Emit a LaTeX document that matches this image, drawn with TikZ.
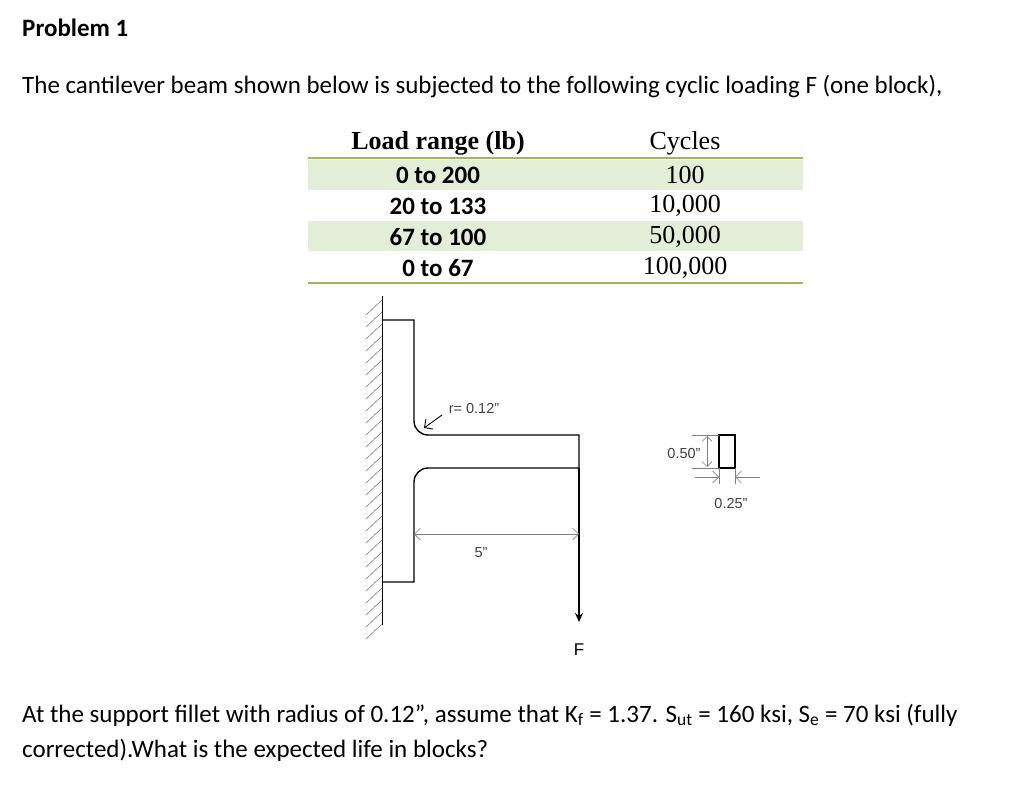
\documentclass[tikz,border=0pt]{standalone}
\usepackage{fontspec}
\setmainfont{Carlito}
\newfontfamily\serif{Liberation Serif}
\newfontfamily\arial{Liberation Sans}
\usetikzlibrary{arrows.meta}
\definecolor{rowgreen}{HTML}{E3EED8}
\definecolor{linegreen}{HTML}{9BBB59}
\tikzset{
  txt/.style={anchor=west,inner sep=0pt,font=\fontsize{25}{30}\selectfont},
  cell/.style={inner sep=0pt},
  small/.style={inner sep=0pt,font=\arial\fontsize{14.5}{16}\selectfont,text=black!75},
  beam/.style={line width=1.4pt},
  dim/.style={gray,line width=0.6pt},
}
\begin{document}
\begin{tikzpicture}[x=1pt,y=-1pt]
\useasboundingbox (0,0) rectangle (1024,790);
\node[txt,font=\bfseries\fontsize{25}{30}\selectfont] (p) at (22,28) {Problem 1};
\node[txt] (t1) at (22,87) {The cantilever beam shown below is subjected to the following cyclic loading F (one block),};
% table
\fill[rowgreen] (308,160) rectangle (803,190);
\fill[rowgreen] (308,221) rectangle (803,251);
\draw[linegreen,line width=1.5pt] (308,158) -- (803,158);
\draw[linegreen,line width=1.5pt] (308,283) -- (803,283);
\node[cell,font=\serif\bfseries\fontsize{26}{28}\selectfont] (h1) at (438,143) {Load range (lb)};
\node[cell,font=\serif\fontsize{26}{28}\selectfont] (h2) at (685,143) {Cycles};
\node[cell,font=\bfseries\fontsize{25}{28}\selectfont] (a1) at (438,175) {0 to 200};
\node[cell,font=\bfseries\fontsize{25}{28}\selectfont] (a2) at (438,206) {20 to 133};
\node[cell,font=\bfseries\fontsize{25}{28}\selectfont] (a3) at (438,237) {67 to 100};
\node[cell,font=\bfseries\fontsize{25}{28}\selectfont] (a4) at (438,268) {0 to 67};
\node[cell,font=\serif\fontsize{26}{28}\selectfont] (b1) at (685,175) {100};
\node[cell,font=\serif\fontsize{26}{28}\selectfont] (b2) at (685,206) {10,000};
\node[cell,font=\serif\fontsize{26}{28}\selectfont] (b3) at (685,237) {50,000};
\node[cell,font=\serif\fontsize{26}{28}\selectfont] (b4) at (685,268) {100,000};
% wall
\draw[line width=0.9pt] (382,296) -- (382,625);
\foreach \y in {300,312,...,624} \draw[gray,line width=0.6pt] (382,\y) -- (366,\y+15);
% beam outline
\draw[beam] (382,320) -- (414,320) -- (414,421) arc[start angle=180,end angle=90,radius=14] -- (579,435) -- (579,468) -- (428,468) arc[start angle=270,end angle=180,radius=14] -- (414,582) -- (382,582);
\coordinate (tip) at (579,468);
\coordinate (fend) at (579,622);
\draw[line width=2pt,-{Stealth[length=9pt,width=8pt]}] (tip) -- (fend);
\node[inner sep=0pt,font=\arial\fontsize{17}{19}\selectfont] (F) at (579,650) {F};
% dimension 5"
\coordinate (d1) at (414,534); \coordinate (d2) at (579,534);
\draw[dim,{Straight Barb[length=6pt]}-{Straight Barb[length=6pt]}] (d1) -- (d2);
\node[small] (five) at (481,553) {5”};
% fillet label
\node[small] (r) at (474,409) {r= 0.12”};
\coordinate (ra) at (424,428);
\draw[line width=0.9pt,-{Straight Barb[length=6pt]}] (442,415) -- (ra);
% section
\draw[beam] (719,435) rectangle (735,468);
\draw[dim] (692,435) -- (719,435);
\draw[dim] (692,468) -- (719,468);
\coordinate (v1) at (707,436); \coordinate (v2) at (707,467);
\draw[dim,{Straight Barb[length=5pt]}-{Straight Barb[length=5pt]}] (v1) -- (v2);
\node[small] (h) at (684,453) {0.50”};
\draw[dim] (719,468) -- (719,484);
\draw[dim] (735,468) -- (735,484);
\coordinate (w1) at (719,477); \coordinate (w2) at (735,477);
\draw[dim,-{Straight Barb[length=6pt]}] (695,477) -- (w1);
\draw[dim,-{Straight Barb[length=6pt]}] (760,477) -- (w2);
\node[small] (w) at (731,503) {0.25”};
% bottom text
\node[txt] (t2) at (22,715) {At the support fillet with radius of 0.12", assume that K\textsubscript{f} = 1.37. S\textsubscript{ut} = 160 ksi, S\textsubscript{e} = 70 ksi (fully};
\node[txt] (t3) at (22,750) {corrected).What is the expected life in blocks?};
\end{tikzpicture}
\end{document}
